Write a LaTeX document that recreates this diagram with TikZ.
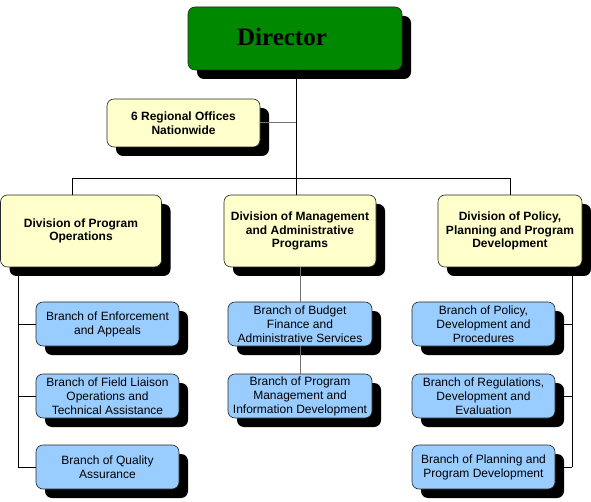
\documentclass[tikz,border=0pt]{standalone}
\usepackage{fontspec}
\setmainfont{Liberation Serif}
\setsansfont{Liberation Sans}
\usetikzlibrary{shadows}
\definecolor{dirgreen}{RGB}{0,136,0}
\definecolor{divyellow}{RGB}{255,255,204}
\definecolor{branchblue}{RGB}{153,204,255}

\begin{document}
\begin{tikzpicture}[x=1pt,y=-1pt]
\tikzstyle{every node}+=[inner sep=0pt]
\tikzstyle{box}=[draw=black!85, line width=0.6pt, rounded corners=7pt, align=center,
  drop shadow={shadow xshift=9pt, shadow yshift=-9pt, fill=black, opacity=1}]
\tikzstyle{divbox}=[box, fill=divyellow, minimum height=72pt, font=\sffamily\bfseries\fontsize{12}{13.5}\selectfont]
\tikzstyle{branchbox}=[box, fill=branchblue, minimum width=143pt, minimum height=44pt, font=\sffamily\fontsize{12}{14}\selectfont]
\tikzstyle{link}=[black, line width=0.8pt]
\tikzstyle{greylink}=[black!55, line width=1pt]
\useasboundingbox (0,0) rectangle (591,502);
% boxes
\node [box, fill=dirgreen, minimum width=214pt, minimum height=63pt, font=\bfseries\fontsize{25}{27}\selectfont] (dir) at (295,38.5) {\raisebox{3pt}{Director}\hspace*{26pt}};
\node [box, fill=divyellow, minimum width=153pt, minimum height=48pt, font=\sffamily\bfseries\fontsize{12}{13.5}\selectfont] (reg) at (183.5,123) {6 Regional Offices\\Nationwide};
\node [divbox, minimum width=161pt] (divA) at (81,231) {Division of Program\\Operations};
\node [divbox, minimum width=152pt] (divB) at (300,231) {Division of Management\\and Administrative\\Programs};
\node [divbox, minimum width=144pt] (divC) at (510,231) {Division of Policy,\\Planning and Program\\Development};
\node [branchbox] (bA1) at (107.5,324) {Branch of Enforcement\\and Appeals};
\node [branchbox] (bA2) at (107.5,396) {Branch of Field Liaison\\Operations and\\Technical Assistance};
\node [branchbox] (bA3) at (107.5,467) {Branch of Quality\\Assurance};
\node [branchbox, minimum width=144pt] (bB1) at (300,324) {Branch of Budget\\Finance and\\Administrative Services};
\node [branchbox, minimum width=144pt] (bB2) at (300,396) {Branch of Program\\Management and\\Information Development};
\node [branchbox] (bC1) at (483.5,324) {Branch of Policy,\\Development and\\Procedures};
\node [branchbox] (bC2) at (483.5,396) {Branch of Regulations,\\Development and\\Evaluation};
\node [branchbox] (bC3) at (483.5,467) {Branch of Planning and\\Program Development};
% connectors
\coordinate (busL) at (72,178);
\coordinate (busR) at (510,178);
\coordinate (spA) at (18,0);
\coordinate (spC) at (572,0);
\draw [link] (busL) -- (busR);
\draw [link] ([xshift=1pt]dir.south) -- ([xshift=1pt]dir.south |- busL);
\draw [greylink] (reg.east) -- ([xshift=1pt]reg.east -| dir.south);
\draw [link] (busL) -- (busL |- divA.north);
\draw [link] ([xshift=1pt]dir.south |- busL) -- ([xshift=1pt]dir.south |- divB.north);
\draw [link] (busR) -- (busR |- divC.north);
\draw [link] (spA |- divA.south) -- (spA |- bA3.west);
\foreach \b in {bA1,bA2,bA3}
  \draw [link] (spA |- \b.west) -- (\b.west);
\draw [greylink] (divB.south) -- (bB1.north);
\draw [greylink] (bB1.south) -- (bB2.north);
\draw [link] (spC |- divC.south) -- (spC |- bC3.east);
\foreach \b in {bC1,bC2,bC3}
  \draw [link] (spC |- \b.east) -- (\b.east);
\end{tikzpicture}
\end{document}
